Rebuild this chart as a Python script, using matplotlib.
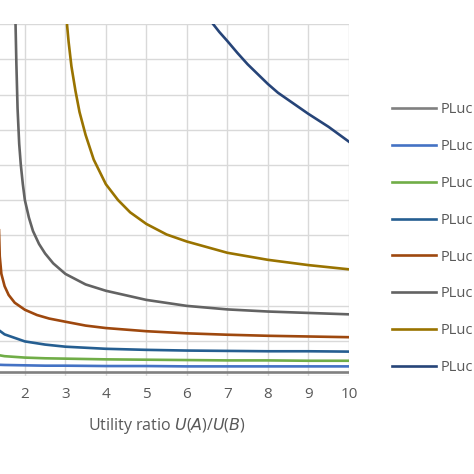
import matplotlib.pyplot as plt

plt.rcParams['font.family'] = ['Open Sans', 'DejaVu Sans']

# series: (x values, y values)
x_flat = [1.0, 1.5, 2, 2.5, 3, 4, 5, 6, 7, 8, 9, 10]
y_s1 = [0.1, 0.1, 0.1, 0.1, 0.1, 0.1, 0.1, 0.1, 0.1, 0.1, 0.1, 0.1]
y_s2 = [0.33, 0.31, 0.3, 0.29, 0.29, 0.28, 0.28, 0.27, 0.27, 0.27, 0.27, 0.27]
y_s3 = [0.66, 0.56, 0.52, 0.5, 0.49, 0.47, 0.46, 0.45, 0.44, 0.44, 0.43, 0.43]
y_s4 = [1.6, 1.18, 0.98, 0.89, 0.83, 0.77, 0.74, 0.72, 0.71, 0.70, 0.70, 0.69]

x_s5 = [1.36, 1.38, 1.42, 1.5, 1.6, 1.75, 2, 2.3, 2.6, 3, 3.5, 4, 5, 6, 7, 8, 9, 10]
y_s5 = [4.2, 3.4, 2.9, 2.55, 2.3, 2.08, 1.88, 1.73, 1.63, 1.54, 1.43, 1.36, 1.27, 1.21, 1.17, 1.14, 1.12, 1.1]

x_s6 = [1.77, 1.79, 1.82, 1.86, 1.9, 1.95, 2, 2.1, 2.2, 2.35, 2.5, 2.7, 3, 3.5, 4, 5, 6, 7, 8, 9, 10]
y_s6 = [10.0, 8.9, 7.6, 6.6, 6.0, 5.45, 5.0, 4.5, 4.12, 3.75, 3.48, 3.2, 2.9, 2.6, 2.42, 2.16, 1.99, 1.89, 1.83, 1.79, 1.75]

x_s7 = [3.04, 3.08, 3.15, 3.25, 3.35, 3.5, 3.7, 4, 4.3, 4.6, 5, 5.5, 6, 7, 8, 9, 10]
y_s7 = [10.0, 9.5, 8.8, 8.1, 7.5, 6.85, 6.15, 5.45, 5.0, 4.65, 4.32, 4.02, 3.82, 3.5, 3.3, 3.15, 3.03]

x_s8 = [6.65, 6.8, 7, 7.25, 7.5, 7.75, 8, 8.25, 8.5, 9, 9.5, 10]
y_s8 = [10.0, 9.78, 9.52, 9.18, 8.86, 8.58, 8.3, 8.05, 7.85, 7.45, 7.08, 6.66]

labels = ['PLuc', 'PLuc', 'PLuc', 'PLuc', 'PLuc', 'PLuc', 'PLuc', 'PLuc']
colors = ['#808080', '#4472c4', '#70ad47', '#255e91',
          '#9e480e', '#636363', '#997300', '#264478']
xtick_labels = ['', '2', '3', '4', '5', '6', '7', '8', '9', '10']

series = [(x_flat, y_s1), (x_flat, y_s2), (x_flat, y_s3), (x_flat, y_s4),
          (x_s5, y_s5), (x_s6, y_s6), (x_s7, y_s7), (x_s8, y_s8)]

fig = plt.figure(figsize=(4.74, 4.74), dpi=100)
ax = fig.add_axes([-0.033, 0.207, 0.769, 0.742])

for (xs, ys), lab, c in zip(series, labels, colors):
    ax.plot(xs, ys, color=c, lw=1.9, label=lab, solid_joinstyle='round')

ax.set_xlim(1, 10)
ax.set_ylim(0, 10)
ax.set_xticks(range(1, 11))
ax.set_xticklabels(xtick_labels)
ax.set_yticks(range(0, 11))
ax.set_yticklabels([])
ax.grid(True, color='#d9d9d9', lw=1)
ax.set_axisbelow(True)
for s in ax.spines.values():
    s.set_visible(False)
ax.tick_params(length=0, labelsize=11, colors='#595959', pad=8)
ax.set_xlabel('Utility ratio $\\it{U}$($\\it{A}$)/$\\it{U}$($\\it{B}$)',
              fontsize=11.5, color='#595959', labelpad=10)

fig.legend(loc='upper left', bbox_to_anchor=(0.815, 0.797), frameon=False,
           fontsize=10.5, labelcolor='#595959', handlelength=3.0,
           handletextpad=0.35, labelspacing=1.5, borderaxespad=0)

fig.savefig('out.png', dpi=100)
